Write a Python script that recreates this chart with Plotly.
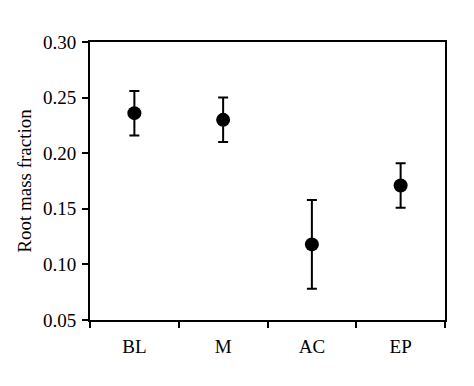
import plotly.graph_objects as go

categories = ["BL", "M", "AC", "EP"]
means = [0.236, 0.230, 0.118, 0.171]
errors = [0.020, 0.020, 0.040, 0.020]
y_ticks = [0.05, 0.10, 0.15, 0.20, 0.25, 0.30]
y_tick_labels = ["0.05", "0.10", "0.15", "0.20", "0.25", "0.30"]

fig = go.Figure()
fig.add_trace(go.Scatter(
    x=categories, y=means, mode="markers",
    marker=dict(color="black", size=14),
    error_y=dict(type="data", array=errors, visible=True, color="black", thickness=2, width=5),
    showlegend=False,
))

font = "Liberation Serif"
fig.update_layout(
    width=474, height=386,
    margin=dict(l=90, r=29, t=42, b=66),
    paper_bgcolor="white", plot_bgcolor="white",
    font=dict(family=font, color="black", size=19),
    xaxis=dict(
        type="category", range=[-0.5, 3.5], tickson="boundaries",
        ticks="outside", ticklen=6, tickwidth=2, tickcolor="black",
        showline=True, linecolor="black", linewidth=2, mirror=True,
        showgrid=False, zeroline=False, ticklabelstandoff=8,
        tickfont=dict(size=19, family=font, color="black"),
    ),
    yaxis=dict(
        range=[0.05, 0.30], tickvals=y_ticks, ticktext=y_tick_labels,
        ticks="outside", ticklen=6, tickwidth=2, tickcolor="black",
        showline=True, linecolor="black", linewidth=2, mirror=True,
        showgrid=False, zeroline=False, ticklabelstandoff=2,
        tickfont=dict(size=19, family=font, color="black"),
        title=dict(text="Root mass fraction", font=dict(size=19, family=font, color="black"), standoff=6),
    ),
)
fig.write_html("out.html")
